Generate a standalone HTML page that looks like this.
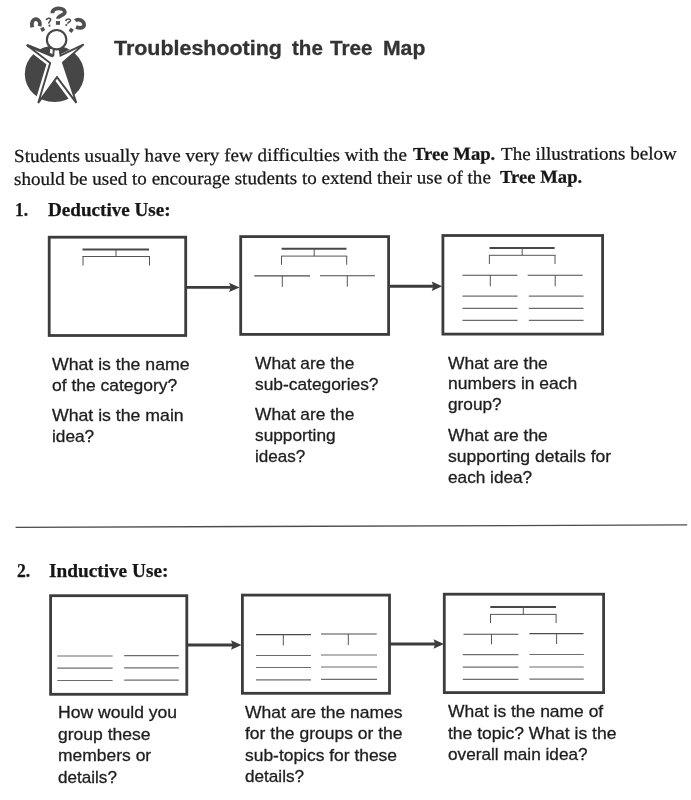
<!DOCTYPE html>
<html lang="en">
<head>
<meta charset="utf-8">
<title>Troubleshooting the Tree Map</title>
<style>
html,body{margin:0;padding:0;background:#fff;}
body{width:691px;height:800px;position:relative;overflow:hidden;font-family:"Liberation Sans",sans-serif;}
.t{position:absolute;white-space:nowrap;transform-origin:0 0;margin:0;}
.ss{font-family:"Liberation Sans",sans-serif;-webkit-text-stroke:0.3px currentColor;}
.sf{font-family:"Liberation Serif",serif;-webkit-text-stroke:0.25px currentColor;}
.b{font-weight:bold;}
svg.g{position:absolute;left:0;top:0;}
#txt{position:absolute;left:0;top:0;width:691px;height:800px;will-change:transform;}
</style>
</head>
<body>
<svg class="g" width="691" height="800" viewBox="0 0 691 800">
<g id="logo">
<ellipse cx="54.5" cy="73.9" rx="29.7" ry="28.2" fill="#464646"/>
<polygon points="26.7,44.9 53.3,55.3 53.8,49.0 59.6,49.0 60.5,55.6 83.7,44.4 62.9,62.6 76.3,102.9 57.0,77.1 38.2,102.9 50.2,63.0" transform="translate(-2.7,0.9)" fill="#fff" stroke="#fff" stroke-width="1.9" stroke-linejoin="miter"/>
<polygon points="49.9,51.2 53.6,51.2 53.2,55.6 50.4,54.4" fill="#fff"/>
<polygon points="26.7,44.9 53.3,55.3 53.8,49.0 59.6,49.0 60.5,55.6 83.7,44.4 62.9,62.6 76.3,102.9 57.0,77.1 38.2,102.9 50.2,63.0" fill="#fff" stroke="#464646" stroke-width="1.9" stroke-linejoin="miter" stroke-miterlimit="3"/>
<line x1="27.5" y1="45.6" x2="53.0" y2="56.3" stroke="#464646" stroke-width="2.7"/>
<circle cx="56.6" cy="39.7" r="9.7" fill="#fff" stroke="#464646" stroke-width="2.1"/>
<g fill="none" stroke="#505050" stroke-linecap="butt">
<path d="M32.3,27.4 C30.8,21.6 33.6,18.6 36.3,19.1 C39.3,19.7 40.6,22.8 39.6,26.2" stroke-width="3.7"/>
<path d="M52.4,13.2 C52.4,9.4 56.3,8.4 58.8,8.4 C62.6,8.4 64.8,10.2 64.8,12.3 C64.8,15.4 58.1,15.0 58.0,18.8" stroke-width="3.9"/>
<path d="M75.2,20.6 C78,18.3 83.0,20.0 84.0,23.7 C84.9,27.3 80.8,29.0 76.0,27.0" stroke-width="3.7"/>
<path d="M46.3,20.2 C46.8,17.8 50.6,17.5 50.6,19.6 C50.6,21.4 48.8,21.6 48.7,23.6" stroke-width="1.6"/>
<path d="M65.7,21.0 C66.1,18.7 70.5,18.3 70.5,20.5 C70.5,22.2 67.8,22.1 67.3,23.6" stroke-width="1.6"/>
</g>
<g fill="#505050">
<rect x="40.8" y="27.4" width="3.8" height="3.8" transform="rotate(-30 42.7 29.3)"/>
<rect x="55.9" y="21.1" width="4.1" height="3.7"/>
<rect x="69.3" y="28.4" width="3.8" height="3.8" transform="rotate(35 71.2 30.3)"/>
<circle cx="49.5" cy="25.7" r="1.1"/>
<circle cx="66.3" cy="25.0" r="1.1"/>
</g>
</g>
<rect x="49.20" y="237.20" width="136.50" height="98.30" fill="none" stroke="#3c3c3c" stroke-width="2.8"/>
<line x1="82.5" y1="249.5" x2="149" y2="249.5" stroke="#484848" stroke-width="2.0"/>
<line x1="116" y1="249.5" x2="116" y2="256.5" stroke="#555" stroke-width="1"/>
<line x1="82.5" y1="256.5" x2="150" y2="256.5" stroke="#555" stroke-width="1"/>
<line x1="83.0" y1="256.5" x2="83.0" y2="265.5" stroke="#555" stroke-width="1"/>
<line x1="149.5" y1="256.5" x2="149.5" y2="265.5" stroke="#555" stroke-width="1"/>
<line x1="186" y1="287.4" x2="232.6" y2="287.4" stroke="#3c3c3c" stroke-width="2.9"/>
<polygon points="239.6,287.4 229.1,282.7 230.79999999999998,287.4 229.1,292.09999999999997" fill="#3c3c3c"/>
<rect x="240.70" y="236.60" width="147.90" height="97.80" fill="none" stroke="#3c3c3c" stroke-width="2.8"/>
<line x1="281.6" y1="248.8" x2="346.5" y2="248.8" stroke="#484848" stroke-width="2.0"/>
<line x1="314.2" y1="248.8" x2="314.2" y2="256.1" stroke="#555" stroke-width="1"/>
<line x1="281" y1="256.1" x2="347.2" y2="256.1" stroke="#555" stroke-width="1"/>
<line x1="281.5" y1="256.1" x2="281.5" y2="264.8" stroke="#555" stroke-width="1"/>
<line x1="346.7" y1="256.1" x2="346.7" y2="264.8" stroke="#555" stroke-width="1"/>
<line x1="254.3" y1="275.9" x2="310" y2="275.9" stroke="#4a4a4a" stroke-width="1.1"/>
<line x1="282.3" y1="275.9" x2="282.3" y2="286.9" stroke="#555" stroke-width="1"/>
<line x1="320" y1="275.7" x2="375" y2="275.7" stroke="#4a4a4a" stroke-width="1.1"/>
<line x1="347.3" y1="275.7" x2="347.3" y2="286.7" stroke="#555" stroke-width="1"/>
<line x1="389" y1="286.3" x2="435.2" y2="286.3" stroke="#3c3c3c" stroke-width="2.9"/>
<polygon points="442.2,286.3 431.7,281.6 433.4,286.3 431.7,291.0" fill="#3c3c3c"/>
<rect x="442.90" y="235.50" width="159.70" height="98.60" fill="none" stroke="#3c3c3c" stroke-width="2.8"/>
<line x1="489.5" y1="248.1" x2="554.6" y2="248.1" stroke="#484848" stroke-width="2.0"/>
<line x1="522.2" y1="248.1" x2="522.2" y2="255.3" stroke="#555" stroke-width="1"/>
<line x1="488.9" y1="255.3" x2="555.5" y2="255.3" stroke="#555" stroke-width="1"/>
<line x1="489.4" y1="255.3" x2="489.4" y2="264.0" stroke="#555" stroke-width="1"/>
<line x1="555.0" y1="255.3" x2="555.0" y2="264.0" stroke="#555" stroke-width="1"/>
<line x1="462.5" y1="275.3" x2="517.5" y2="275.3" stroke="#4a4a4a" stroke-width="1.1"/>
<line x1="490.3" y1="275.3" x2="490.3" y2="286.3" stroke="#555" stroke-width="1"/>
<line x1="527.7" y1="275.3" x2="582.7" y2="275.3" stroke="#4a4a4a" stroke-width="1.1"/>
<line x1="555.2" y1="275.3" x2="555.2" y2="286.3" stroke="#555" stroke-width="1"/>
<line x1="462.5" y1="296.1" x2="517.5" y2="296.1" stroke="#6c6c6c" stroke-width="1.2"/>
<line x1="528.8" y1="296.1" x2="583.5" y2="296.1" stroke="#6c6c6c" stroke-width="1.2"/>
<line x1="462.5" y1="308.3" x2="517.5" y2="308.3" stroke="#6c6c6c" stroke-width="1.2"/>
<line x1="528.8" y1="308.3" x2="583.5" y2="308.3" stroke="#6c6c6c" stroke-width="1.2"/>
<line x1="462.5" y1="320.4" x2="517.5" y2="320.4" stroke="#6c6c6c" stroke-width="1.2"/>
<line x1="528.8" y1="320.4" x2="583.5" y2="320.4" stroke="#6c6c6c" stroke-width="1.2"/>
<line x1="15.6" y1="527.4" x2="687.2" y2="524.9" stroke="#4c4c4c" stroke-width="1.3"/>
<rect x="50.60" y="595.70" width="136.20" height="98.60" fill="none" stroke="#3c3c3c" stroke-width="2.8"/>
<line x1="57.3" y1="656" x2="112.6" y2="656" stroke="#6c6c6c" stroke-width="1.2"/>
<line x1="124.2" y1="655.7" x2="178.8" y2="655.7" stroke="#6c6c6c" stroke-width="1.2"/>
<line x1="57.3" y1="668.2" x2="112.6" y2="668.2" stroke="#6c6c6c" stroke-width="1.2"/>
<line x1="124.2" y1="667.9000000000001" x2="178.8" y2="667.9000000000001" stroke="#6c6c6c" stroke-width="1.2"/>
<line x1="57.3" y1="680.5" x2="112.6" y2="680.5" stroke="#6c6c6c" stroke-width="1.2"/>
<line x1="124.2" y1="680.2" x2="178.8" y2="680.2" stroke="#6c6c6c" stroke-width="1.2"/>
<line x1="187" y1="645.0" x2="234.5" y2="645.0" stroke="#3c3c3c" stroke-width="2.9"/>
<polygon points="241.5,645.0 231.0,640.3 232.7,645.0 231.0,649.7" fill="#3c3c3c"/>
<rect x="242.40" y="595.10" width="147.10" height="98.20" fill="none" stroke="#3c3c3c" stroke-width="2.8"/>
<line x1="256" y1="634.6" x2="311" y2="634.6" stroke="#4a4a4a" stroke-width="1.1"/>
<line x1="283.3" y1="634.6" x2="283.3" y2="645.5" stroke="#555" stroke-width="1"/>
<line x1="321" y1="634" x2="376.7" y2="634" stroke="#4a4a4a" stroke-width="1.1"/>
<line x1="348.3" y1="634" x2="348.3" y2="645" stroke="#555" stroke-width="1"/>
<line x1="256" y1="655.5" x2="311" y2="655.5" stroke="#6c6c6c" stroke-width="1.2"/>
<line x1="321" y1="655.0" x2="377" y2="655.0" stroke="#6c6c6c" stroke-width="1.2"/>
<line x1="256" y1="667.5" x2="311" y2="667.5" stroke="#6c6c6c" stroke-width="1.2"/>
<line x1="321" y1="667.0" x2="377" y2="667.0" stroke="#6c6c6c" stroke-width="1.2"/>
<line x1="256" y1="679.8" x2="311" y2="679.8" stroke="#6c6c6c" stroke-width="1.2"/>
<line x1="321" y1="679.3" x2="377" y2="679.3" stroke="#6c6c6c" stroke-width="1.2"/>
<line x1="390" y1="644.0" x2="437.0" y2="644.0" stroke="#3c3c3c" stroke-width="2.9"/>
<polygon points="444.0,644.0 433.5,639.3 435.2,644.0 433.5,648.7" fill="#3c3c3c"/>
<rect x="444.30" y="594.20" width="159.30" height="98.40" fill="none" stroke="#3c3c3c" stroke-width="2.8"/>
<line x1="490.3" y1="607.1" x2="556" y2="607.1" stroke="#484848" stroke-width="2.0"/>
<line x1="523.3" y1="607.1" x2="523.3" y2="614.4" stroke="#555" stroke-width="1"/>
<line x1="490" y1="614.4" x2="556.6" y2="614.4" stroke="#555" stroke-width="1"/>
<line x1="490.5" y1="614.4" x2="490.5" y2="623.0" stroke="#555" stroke-width="1"/>
<line x1="556.1" y1="614.4" x2="556.1" y2="623.0" stroke="#555" stroke-width="1"/>
<line x1="463.5" y1="634.2" x2="518.4" y2="634.2" stroke="#4a4a4a" stroke-width="1.1"/>
<line x1="491.5" y1="634.2" x2="491.5" y2="644.3" stroke="#555" stroke-width="1"/>
<line x1="529.4" y1="633.6" x2="583.5" y2="633.6" stroke="#4a4a4a" stroke-width="1.1"/>
<line x1="556.6" y1="633.6" x2="556.6" y2="644" stroke="#555" stroke-width="1"/>
<line x1="462.8" y1="654.6" x2="518.4" y2="654.6" stroke="#6c6c6c" stroke-width="1.2"/>
<line x1="529.4" y1="654.5" x2="583.8" y2="654.5" stroke="#6c6c6c" stroke-width="1.2"/>
<line x1="462.8" y1="667.1" x2="518.4" y2="667.1" stroke="#6c6c6c" stroke-width="1.2"/>
<line x1="529.4" y1="667.0" x2="583.8" y2="667.0" stroke="#6c6c6c" stroke-width="1.2"/>
<line x1="462.8" y1="679.3" x2="518.4" y2="679.3" stroke="#6c6c6c" stroke-width="1.2"/>
<line x1="529.4" y1="679.1999999999999" x2="583.8" y2="679.1999999999999" stroke="#6c6c6c" stroke-width="1.2"/>
</svg>
<div id="txt">
<div class="t ss b" style="left:114.2px;top:38.00px;font-size:20px;line-height:20px;color:#333;transform:scaleX(1.0718)">Troubleshooting</div>
<div class="t ss b" style="left:291.6px;top:38.00px;font-size:20px;line-height:20px;color:#333;transform:scaleX(1.0267)">the</div>
<div class="t ss b" style="left:330.3px;top:38.00px;font-size:20px;line-height:20px;color:#333;transform:scaleX(1.0326)">Tree</div>
<div class="t ss b" style="left:382.7px;top:38.00px;font-size:20px;line-height:20px;color:#333;transform:scaleX(1.0575)">Map</div>
<div class="t sf" style="left:14.3px;top:146.80px;font-size:18.3px;line-height:18.3px;color:#161616;transform-origin:0 15.0px;transform:rotate(-0.2deg) scaleX(1.0453)">Students usually have very few difficulties with the</div>
<div class="t sf b" style="left:413.3px;top:145.41px;font-size:18.3px;line-height:18.3px;color:#161616;transform-origin:0 15.0px;transform:rotate(-0.2deg) scaleX(1.0216)">Tree Map.</div>
<div class="t sf" style="left:500.8px;top:145.10px;font-size:18.3px;line-height:18.3px;color:#161616;transform-origin:0 15.0px;transform:rotate(-0.2deg) scaleX(1.0428)">The illustrations below</div>
<div class="t sf" style="left:14.3px;top:169.60px;font-size:18.3px;line-height:18.3px;color:#161616;transform-origin:0 15.0px;transform:rotate(-0.2deg) scaleX(1.0425)">should be used to encourage students to extend their use of the</div>
<div class="t sf b" style="left:499.6px;top:167.90px;font-size:18.3px;line-height:18.3px;color:#161616;transform-origin:0 15.0px;transform:rotate(-0.2deg) scaleX(1.0203)">Tree Map.</div>
<div class="t sf b" style="left:14.6px;top:201.40px;font-size:18.6px;line-height:18.6px;color:#161616;transform:scaleX(0.9317)">1.</div>
<div class="t sf b" style="left:47.8px;top:201.20px;font-size:18.6px;line-height:18.6px;color:#161616;transform:scaleX(1.0278)">Deductive Use:</div>
<div class="t sf b" style="left:17.0px;top:562.20px;font-size:18.6px;line-height:18.6px;color:#161616;transform:scaleX(0.9460)">2.</div>
<div class="t sf b" style="left:48.6px;top:562.00px;font-size:18.6px;line-height:18.6px;color:#161616;transform:scaleX(1.0366)">Inductive Use:</div>
<div class="t ss" style="left:52.4px;top:356.80px;font-size:16.6px;line-height:16.6px;color:#1e1e1e;transform:scaleX(1.0656)">What is the name</div>
<div class="t ss" style="left:52.4px;top:378.10px;font-size:16.6px;line-height:16.6px;color:#1e1e1e;transform:scaleX(1.0528)">of the category?</div>
<div class="t ss" style="left:52.4px;top:407.50px;font-size:16.6px;line-height:16.6px;color:#1e1e1e;transform:scaleX(1.0657)">What is the main</div>
<div class="t ss" style="left:52.4px;top:428.70px;font-size:16.6px;line-height:16.6px;color:#1e1e1e;transform:scaleX(1.0392)">idea?</div>
<div class="t ss" style="left:254.5px;top:355.80px;font-size:16.6px;line-height:16.6px;color:#1e1e1e;transform:scaleX(1.0461)">What are the</div>
<div class="t ss" style="left:254.5px;top:377.10px;font-size:16.6px;line-height:16.6px;color:#1e1e1e;transform:scaleX(1.0459)">sub-categories?</div>
<div class="t ss" style="left:254.5px;top:406.90px;font-size:16.6px;line-height:16.6px;color:#1e1e1e;transform:scaleX(1.0461)">What are the</div>
<div class="t ss" style="left:254.5px;top:428.10px;font-size:16.6px;line-height:16.6px;color:#1e1e1e;transform:scaleX(1.0400)">supporting</div>
<div class="t ss" style="left:254.5px;top:449.40px;font-size:16.6px;line-height:16.6px;color:#1e1e1e;transform:scaleX(1.0265)">ideas?</div>
<div class="t ss" style="left:447.8px;top:355.50px;font-size:16.6px;line-height:16.6px;color:#1e1e1e;transform:scaleX(1.0504)">What are the</div>
<div class="t ss" style="left:447.8px;top:376.40px;font-size:16.6px;line-height:16.6px;color:#1e1e1e;transform:scaleX(1.0539)">numbers in each</div>
<div class="t ss" style="left:447.8px;top:397.30px;font-size:16.6px;line-height:16.6px;color:#1e1e1e;transform:scaleX(1.0393)">group?</div>
<div class="t ss" style="left:447.8px;top:427.50px;font-size:16.6px;line-height:16.6px;color:#1e1e1e;transform:scaleX(1.0504)">What are the</div>
<div class="t ss" style="left:447.8px;top:448.90px;font-size:16.6px;line-height:16.6px;color:#1e1e1e;transform:scaleX(1.0594)">supporting details for</div>
<div class="t ss" style="left:447.8px;top:469.80px;font-size:16.6px;line-height:16.6px;color:#1e1e1e;transform:scaleX(1.0369)">each idea?</div>
<div class="t ss" style="left:58.1px;top:705.30px;font-size:16.6px;line-height:16.6px;color:#1e1e1e;transform:scaleX(1.0584)">How would you</div>
<div class="t ss" style="left:58.1px;top:726.50px;font-size:16.6px;line-height:16.6px;color:#1e1e1e;transform:scaleX(1.0564)">group these</div>
<div class="t ss" style="left:58.1px;top:748.20px;font-size:16.6px;line-height:16.6px;color:#1e1e1e;transform:scaleX(1.0527)">members or</div>
<div class="t ss" style="left:58.1px;top:769.50px;font-size:16.6px;line-height:16.6px;color:#1e1e1e;transform:scaleX(1.0297)">details?</div>
<div class="t ss" style="left:245.4px;top:704.70px;font-size:16.6px;line-height:16.6px;color:#1e1e1e;transform:scaleX(1.0541)">What are the names</div>
<div class="t ss" style="left:245.4px;top:726.10px;font-size:16.6px;line-height:16.6px;color:#1e1e1e;transform:scaleX(1.0540)">for the groups or the</div>
<div class="t ss" style="left:245.4px;top:747.70px;font-size:16.6px;line-height:16.6px;color:#1e1e1e;transform:scaleX(1.0496)">sub-topics for these</div>
<div class="t ss" style="left:245.4px;top:768.60px;font-size:16.6px;line-height:16.6px;color:#1e1e1e;transform:scaleX(1.0332)">details?</div>
<div class="t ss" style="left:448.0px;top:704.10px;font-size:16.6px;line-height:16.6px;color:#1e1e1e;transform:scaleX(1.0516)">What is the name of</div>
<div class="t ss" style="left:448.0px;top:725.70px;font-size:16.6px;line-height:16.6px;color:#1e1e1e;transform:scaleX(1.0553)">the topic? What is the</div>
<div class="t ss" style="left:448.0px;top:747.00px;font-size:16.6px;line-height:16.6px;color:#1e1e1e;transform:scaleX(1.0366)">overall main idea?</div>
</div>
</body>
</html>
